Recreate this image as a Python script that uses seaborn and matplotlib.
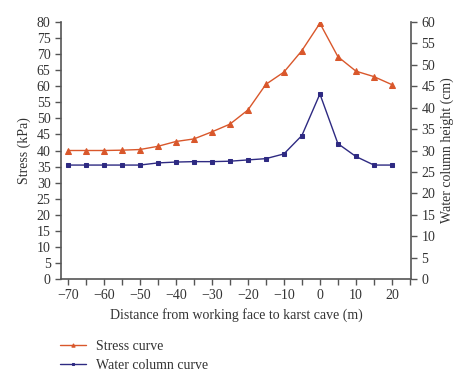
import matplotlib
matplotlib.use("Agg")
import matplotlib.pyplot as plt
import seaborn as sns
import pandas as pd
from matplotlib.ticker import MultipleLocator

distance = [-70, -65, -60, -55, -50, -45, -40, -35, -30, -25, -20, -15, -10, -5, 0, 5, 10, 15, 20]
stress = [40.0, 40.0, 40.0, 40.1, 40.3, 41.3, 42.8, 43.6, 45.8, 48.2, 52.6, 60.6, 64.4, 71.1, 79.6, 69.2, 64.7, 63.0, 60.5]
water = [26.6, 26.6, 26.6, 26.6, 26.6, 27.1, 27.3, 27.4, 27.4, 27.5, 27.8, 28.1, 29.2, 33.5, 43.2, 31.6, 28.6, 26.6, 26.6]

df = pd.DataFrame({"Distance": distance, "Stress": stress, "Water": water})

sns.set_style("white")
plt.rcParams["font.family"] = ["Liberation Serif", "DejaVu Serif"]

red = "#d9572b"
navy = "#2e2a82"
grey = "#555555"

fig = plt.figure(figsize=(4.74, 3.84), dpi=100)
ax = fig.add_axes([61 / 474, 1 - 279 / 384, 350 / 474, 257 / 384])
ax2 = ax.twinx()

sns.lineplot(data=df, x="Distance", y="Stress", ax=ax, color=red, marker="^",
             markersize=4, markeredgecolor=red, linewidth=1, label="Stress curve", legend=False)
sns.lineplot(data=df, x="Distance", y="Water", ax=ax2, color=navy, marker="s",
             markersize=3.5, markeredgecolor=navy, linewidth=1, label="Water column curve", legend=False)

ax.set_xlim(-71.9, 25.3)
ax.set_ylim(0, 80)
ax2.set_ylim(0, 60)
ax.xaxis.set_major_locator(MultipleLocator(10))
ax.xaxis.set_minor_locator(MultipleLocator(5))
ax.yaxis.set_major_locator(MultipleLocator(5))
ax2.yaxis.set_major_locator(MultipleLocator(5))

for a in (ax, ax2):
    a.spines["top"].set_visible(False)
    for s in ("left", "right", "bottom"):
        a.spines[s].set_color(grey)
        a.spines[s].set_linewidth(1.2)
    a.tick_params(which="both", direction="out", length=4, width=1, color=grey,
                  labelsize=10, labelcolor="#333333")
ax.tick_params(axis="x", which="minor", length=4, width=1, color=grey, bottom=True)
ax.tick_params(axis="x", which="major", bottom=True)
ax.tick_params(axis="y", left=True)
ax2.tick_params(axis="y", right=True)
ax.spines["right"].set_visible(False)
ax2.spines["left"].set_visible(False)
ax2.spines["bottom"].set_visible(False)

ax.set_xlabel("Distance from working face to karst cave (m)", fontsize=10, color="#333333")
ax.set_ylabel("Stress (kPa)", fontsize=10, color="#333333")
ax2.set_ylabel("Water column height (cm)", fontsize=10, color="#333333")

h1, l1 = ax.get_legend_handles_labels()
h2, l2 = ax2.get_legend_handles_labels()
leg = fig.legend(h1 + h2, l1 + l2, loc="upper left", bbox_to_anchor=(60 / 474, 1 - 340 / 384),
                 frameon=False, fontsize=10, handlelength=1.9, handletextpad=0.7,
                 labelspacing=0.45, borderpad=0, borderaxespad=0, markerscale=0.6,
                 labelcolor="#333333")

fig.savefig("out.png", dpi=100)
